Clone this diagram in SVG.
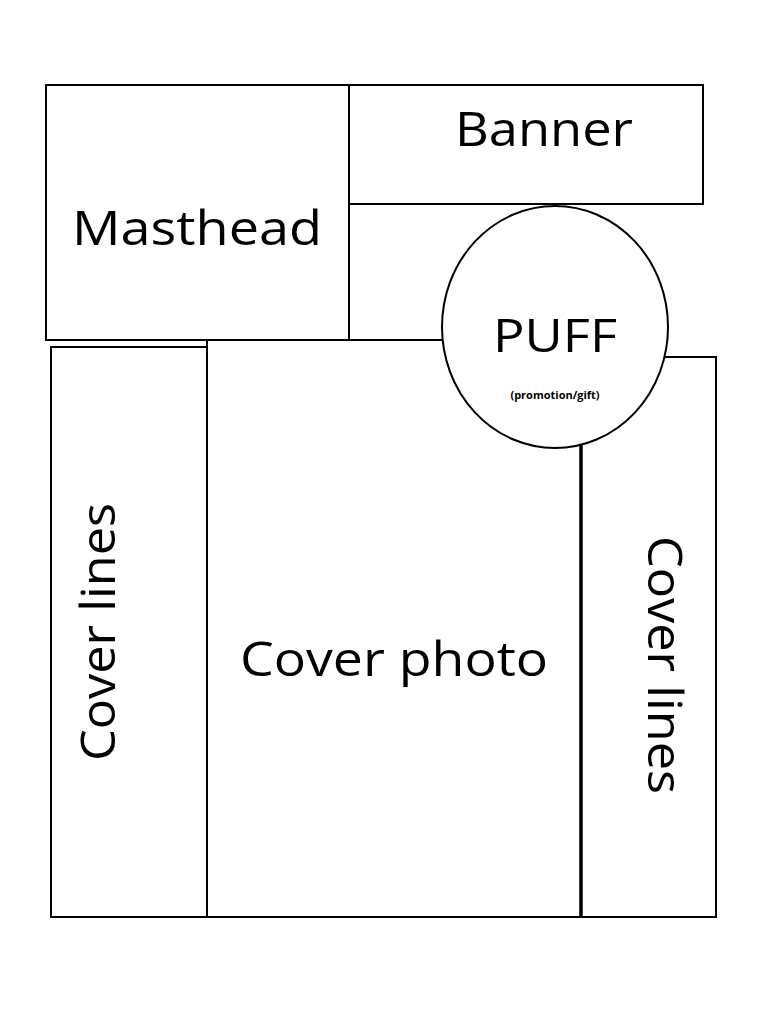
<svg xmlns="http://www.w3.org/2000/svg" width="768" height="1024" viewBox="0 0 768 1024">
<style>
.b{fill:#fff;stroke:#000;stroke-width:2}
.t{font-family:"Open Sans","Liberation Sans",sans-serif;fill:#000;text-anchor:middle}
</style>
<rect width="768" height="1024" fill="#fff"/>
<g id="masthead"><rect class="b" x="46" y="85" width="303" height="255"/><text class="t" x="197" y="245" font-size="48" textLength="250" lengthAdjust="spacingAndGlyphs">Masthead</text></g>
<g id="banner"><rect class="b" x="349" y="85" width="354" height="119"/><text class="t" x="544" y="146" font-size="48" textLength="178" lengthAdjust="spacingAndGlyphs">Banner</text></g>
<g id="connectors"><path d="M349 204V340H445" fill="none" stroke="#000" stroke-width="2"/></g>
<g id="cover-lines-left"><rect class="b" x="51" y="347" width="156" height="570"/><text class="t" transform="translate(115,632) rotate(-90)" font-size="48" textLength="258" lengthAdjust="spacingAndGlyphs">Cover lines</text></g>
<g id="cover-photo"><rect class="b" x="207" y="340" width="374" height="577"/><text class="t" x="394" y="676" font-size="48" textLength="308" lengthAdjust="spacingAndGlyphs">Cover photo</text></g>
<g id="cover-lines-right"><rect class="b" x="581" y="357" width="135" height="560"/><line x1="581" y1="357" x2="581" y2="917" stroke="#000" stroke-width="3.5"/><text class="t" transform="translate(648,665) rotate(90)" font-size="48" textLength="258" lengthAdjust="spacingAndGlyphs">Cover lines</text></g>
<g id="puff"><ellipse class="b" cx="555" cy="327" rx="113" ry="121"/><text class="t" x="555" y="352" font-size="46" textLength="124" lengthAdjust="spacingAndGlyphs">PUFF</text><text class="t" x="555" y="399" font-size="11" font-weight="bold">(promotion/gift)</text></g>
</svg>
